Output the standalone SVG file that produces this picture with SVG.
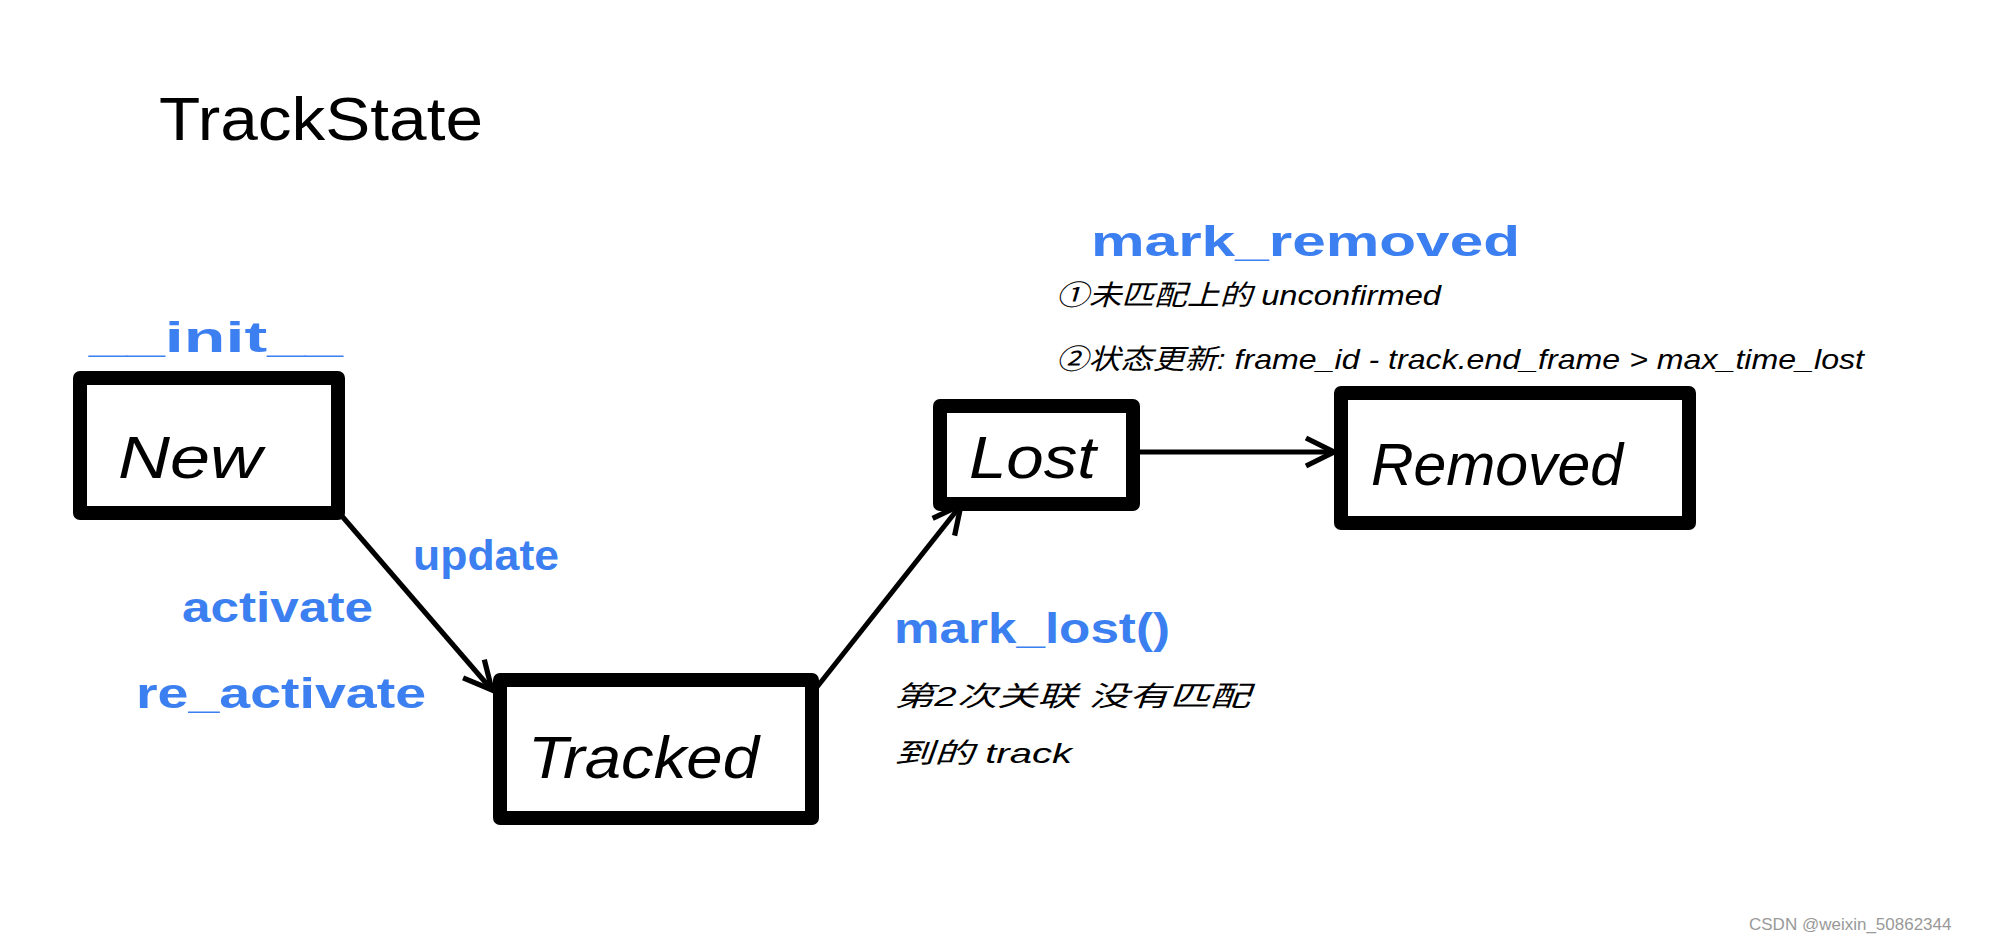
<svg xmlns="http://www.w3.org/2000/svg" width="1994" height="942" viewBox="0 0 1994 942">
<style>
.box{fill:#fff;stroke:#000;stroke-width:14;stroke-linejoin:round}
.name{font-family:"Comic Sans MS","Liberation Sans",sans-serif;font-style:italic;font-size:60px;fill:#000}
.blue{font-family:"Liberation Sans",sans-serif;font-weight:bold;fill:#3b7ff0;font-size:42px}
.note{font-family:"Liberation Sans","Noto Sans CJK SC",sans-serif;font-style:italic;fill:#000;font-size:28px}
.conn{stroke:#000;stroke-width:5;fill:none;marker-end:url(#arr)}
</style>
<defs>
<marker id="arr" viewBox="0 0 20 20" refX="18" refY="10" markerWidth="7" markerHeight="7" orient="auto" markerUnits="strokeWidth">
<path d="M2,2 L18,10 L2,18" fill="none" stroke="#000" stroke-width="3"/>
</marker>
</defs>
<rect width="1994" height="942" fill="#fff"/>
<text x="159" y="140" font-family="Liberation Sans,sans-serif" font-size="62" fill="#000" textLength="324" lengthAdjust="spacingAndGlyphs">TrackState</text>
<g id="connectors">
<line class="conn" x1="341" y1="515" x2="492" y2="690"/>
<line class="conn" x1="817" y1="687" x2="961" y2="505"/>
<line class="conn" x1="1138" y1="452" x2="1334" y2="452"/>
</g>
<g id="New"><rect class="box" x="80" y="378" width="258" height="135"/><text class="name" x="118" y="478" textLength="144" lengthAdjust="spacingAndGlyphs">New</text></g>
<g id="Tracked"><rect class="box" x="500" y="680" width="312" height="138"/><text class="name" x="528" y="778" textLength="231" lengthAdjust="spacingAndGlyphs">Tracked</text></g>
<g id="Lost"><rect class="box" x="940" y="406" width="193" height="98"/><text class="name" x="969" y="478" textLength="127" lengthAdjust="spacingAndGlyphs">Lost</text></g>
<g id="Removed"><rect class="box" x="1341" y="393" width="348" height="130"/><text class="name" x="1371" y="485" textLength="252" lengthAdjust="spacingAndGlyphs">Removed</text></g>
<g id="labels">
<text class="blue" x="89" y="352" font-size="50" textLength="254" lengthAdjust="spacingAndGlyphs">__init__</text>
<text class="blue" x="413" y="570" textLength="146" lengthAdjust="spacingAndGlyphs">update</text>
<text class="blue" x="182" y="622" textLength="191" lengthAdjust="spacingAndGlyphs">activate</text>
<text class="blue" x="136" y="708" textLength="290" lengthAdjust="spacingAndGlyphs">re_activate</text>
<text class="blue" x="894" y="643" textLength="276" lengthAdjust="spacingAndGlyphs">mark_lost()</text>
<text class="note" x="894" y="706" textLength="356" lengthAdjust="spacingAndGlyphs">第2次关联 没有匹配</text>
<text class="note" x="894" y="763" textLength="178" lengthAdjust="spacingAndGlyphs">到的 track</text>
<text class="blue" x="1091" y="256" font-size="60" textLength="429" lengthAdjust="spacingAndGlyphs">mark_removed</text>
<text class="note" x="1056" y="305" font-size="28" textLength="385" lengthAdjust="spacingAndGlyphs">①未匹配上的 unconfirmed</text>
<text class="note" x="1056" y="369" font-size="28" textLength="808" lengthAdjust="spacingAndGlyphs">②状态更新: frame_id - track.end_frame &gt; max_time_lost</text>
</g>
<text x="1749" y="930" font-family="Liberation Sans,sans-serif" font-size="17" fill="#999">CSDN @weixin_50862344</text>
</svg>
